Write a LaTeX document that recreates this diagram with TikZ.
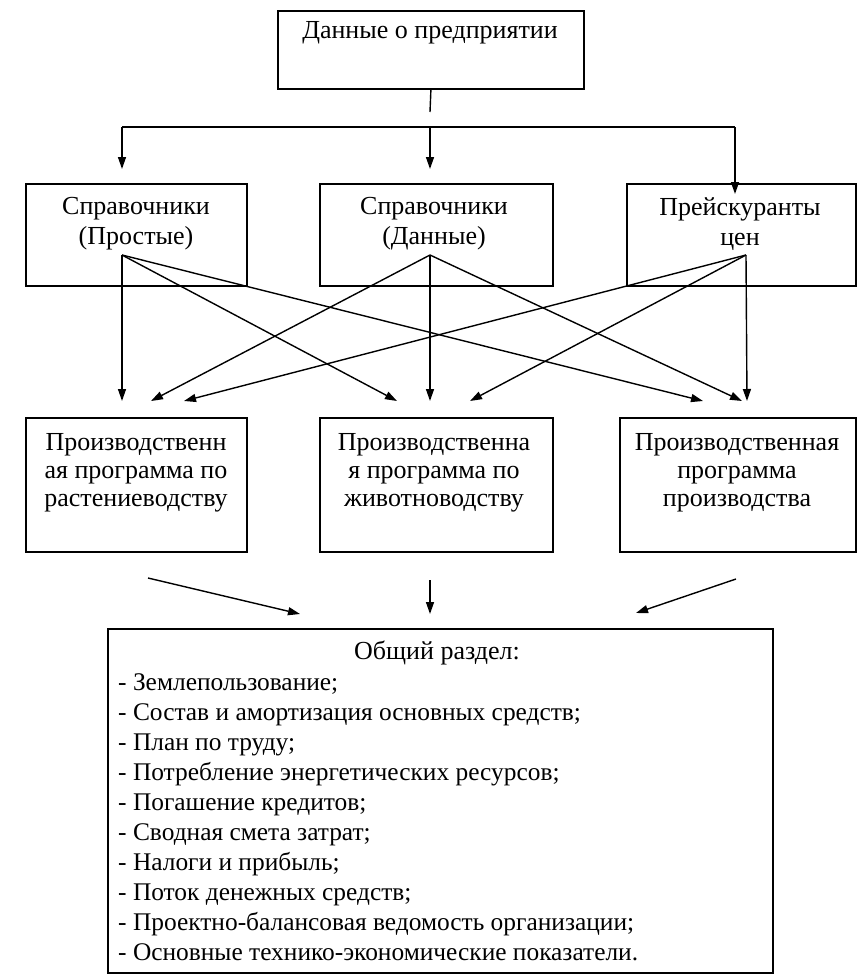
\documentclass[tikz,border=0pt]{standalone}
\usepackage{fontspec}
\setmainfont{Liberation Serif}
\usetikzlibrary{arrows.meta}
\begin{document}
\begin{tikzpicture}[x=1pt,y=-1pt,
  box/.style={draw, line width=1.8pt, rectangle, inner sep=0pt, anchor=north west},
  lbl/.style={align=center, inner sep=0pt, font=\fontsize{26}{30}\selectfont},
  conn/.style={line width=1.4pt},
  arr/.style={conn, -{Triangle[length=12pt,width=8pt]}}]
\useasboundingbox (0,0) rectangle (862,980);
\fill[white] (0,0) rectangle (862,980);
% boxes
\node[box, minimum width=306pt, minimum height=78pt] (top) at (277,10) {};
\node[box, minimum width=221pt, minimum height=102pt] (r2a) at (25,183) {};
\node[box, minimum width=233pt, minimum height=102pt] (r2b) at (319,183) {};
\node[box, minimum width=229pt, minimum height=102pt] (r2c) at (626,183) {};
\node[box, minimum width=221pt, minimum height=134pt] (r3a) at (25,417) {};
\node[box, minimum width=233pt, minimum height=134pt] (r3b) at (319,417) {};
\node[box, minimum width=236pt, minimum height=134pt] (r3c) at (619,417) {};
\node[box, minimum width=665pt, minimum height=344pt] (bot) at (107,628) {};
% texts
\node[lbl] (ttop) at (430,33) {Данные о предприятии};
\node[lbl] (t2a) at (136,224) {Справочники\\(Простые)};
\node[lbl] (t2b) at (434,224) {Справочники\\(Данные)};
\node[lbl] (t2c) at (740,224) {Прейскуранты\\цен};
\node[lbl, font=\fontsize{26}{28}\selectfont] (t3a) at (136,473) {Производственн\\ая программа по\\растениеводству};
\node[lbl, font=\fontsize{26}{28}\selectfont] (t3b) at (434,473) {Производственна\\я программа по\\животноводству};
\node[lbl, font=\fontsize{26}{28}\selectfont] (t3c) at (737,473) {Производственная\\программа\\производства};
\node[lbl] (tbt) at (437,653) {Общий раздел:};
\node[lbl, align=left, anchor=north west, font=\fontsize{25.4}{30}\selectfont] (tlist) at (118,673) {- Землепользование;\\
- Состав и амортизация основных средств;\\
- План по труду;\\
- Потребление энергетических ресурсов;\\
- Погашение кредитов;\\
- Сводная смета затрат;\\
- Налоги и прибыль;\\
- Поток денежных средств;\\
- Проектно-балансовая ведомость организации;\\
- Основные технико-экономические показатели.};
% top connectors
\coordinate (j0) at (430,112);
\coordinate (hL) at (122,127);
\coordinate (hM) at (430,127);
\coordinate (hR) at (735,127);
\coordinate (e1) at (122,169);
\coordinate (e2) at (430,169);
\coordinate (e3) at (735,194);
\draw[conn] (top.south) -- (j0);
\draw[conn] (hL) -- (hR);
\draw[arr] (hL) -- (e1);
\draw[arr] (hM) -- (e2);
\draw[arr] (hR) -- (e3);
% sources
\coordinate (sP) at (122,255);
\coordinate (sD) at (430,255);
\coordinate (sC) at (746,255);
% targets
\coordinate (a1) at (122,401);
\coordinate (a2) at (151,401);
\coordinate (a3) at (184,401);
\coordinate (b1) at (397,401);
\coordinate (b2) at (430,401);
\coordinate (b3) at (470,401);
\coordinate (c1) at (703,401);
\coordinate (c2) at (742,401);
\coordinate (c3) at (747,401);
\draw[arr] (sP) -- (a1);
\draw[arr] (sP) -- (b1);
\draw[arr] (sP) -- (c1);
\draw[arr] (sD) -- (a2);
\draw[arr] (sD) -- (b2);
\draw[arr] (sD) -- (c2);
\draw[arr] (sC) -- (a3);
\draw[arr] (sC) -- (b3);
\draw[arr] (sC) -- (c3);
% bottom connectors
\coordinate (f1) at (148,578);
\coordinate (g1) at (300,614);
\coordinate (f2) at (430,580);
\coordinate (g2) at (430,614);
\coordinate (f3) at (736,579);
\coordinate (g3) at (636,613);
\draw[arr] (f1) -- (g1);
\draw[arr] (f2) -- (g2);
\draw[arr] (f3) -- (g3);
\end{tikzpicture}
\end{document}
